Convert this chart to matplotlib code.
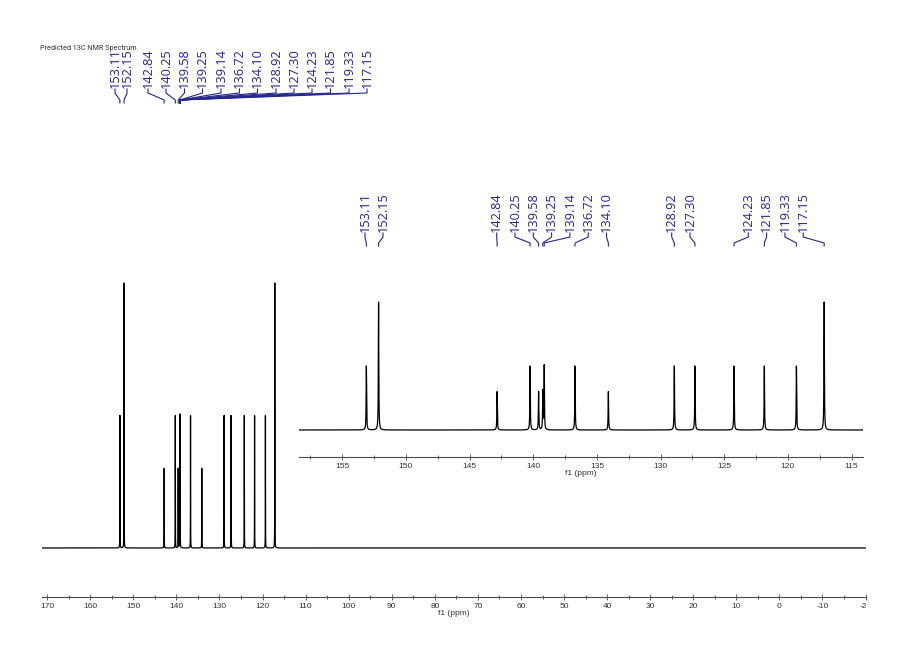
import numpy as np
import matplotlib.pyplot as plt
from matplotlib.lines import Line2D
from matplotlib.transforms import IdentityTransform, Bbox, TransformedBbox

# peak list (ppm) and relative heights
shifts = [153.11, 152.15, 142.84, 140.25, 139.58, 139.25, 139.14, 136.72,
          134.10, 128.92, 127.30, 124.23, 121.85, 119.33, 117.15]
heights = [0.5, 1.0, 0.3, 0.5, 0.3, 0.3, 0.5, 0.5,
           0.3, 0.5, 0.5, 0.5, 0.5, 0.5, 1.0]
labels = ["%.2f" % s for s in shifts]

main_ticks = np.arange(-20, 171, 10)
inset_ticks = np.arange(115, 156, 5)

# label placement (pixel x of each rotated label)
top_label_x = [115, 127, 148, 166, 184.5, 202.5, 221, 239.5, 257.5,
               276, 294, 312, 330.5, 349, 367]
inset_label_x = [365, 383, 496.7, 515, 533.3, 551.6, 569.9, 588.2, 606.5,
                 671.7, 690, 748.3, 766.6, 784.9, 803.2]

W, H = 902, 666
NAVY = '#25258f'
GREY = '#4a4a4a'


def spectrum(x, w):
    y = np.zeros_like(x)
    for s, h in zip(shifts, heights):
        y += h * w**2 / ((x - s)**2 + w**2)
    return y


def axes_px(left, right, top, bottom):
    return [left / W, 1 - bottom / H, (right - left) / W, (bottom - top) / H]


fig = plt.figure(figsize=(W / 100, H / 100), dpi=100)

ax = fig.add_axes(axes_px(42, 866, 270, 597))
xs = np.linspace(172, -21, 400000)
ax.plot(xs, spectrum(xs, 0.015), color='black', lw=0.9)

ins = fig.add_axes(axes_px(299, 863, 290, 457))
xi = np.linspace(159, 113.5, 120000)
ins.plot(xi, spectrum(xi, 0.02), color='black', lw=0.9)

for a, ticks, step in [(ax, main_ticks, 10), (ins, inset_ticks, 5)]:
    for sp in ['top', 'left', 'right']:
        a.spines[sp].set_visible(False)
    a.spines['bottom'].set_color(GREY)
    a.spines['bottom'].set_linewidth(0.8)
    a.set_yticks([])
    a.patch.set_alpha(0)
    a.set_xticks(ticks)
    a.set_xticks(np.arange(ticks[0] - step / 2, ticks[-1] + step, step), minor=True)
    a.set_xticklabels([str(int(t)) for t in ticks], fontsize=6,
                      family='Liberation Sans', color='#333333')
    a.tick_params(axis='x', which='major', direction='inout', length=4,
                  width=0.6, color=GREY, pad=2)
    a.tick_params(axis='x', which='minor', direction='inout', length=3,
                  width=0.6, color=GREY)
    a.set_xlabel('f1 (ppm)', fontsize=6, family='Liberation Sans',
                 color='#333333', labelpad=0.5)

ax.set_xlim(171.2, -20.1)
ax.set_ylim(-0.185, 1.049)
ins.set_xlim(158.4, 114.1)
ins.set_ylim(-0.211, 1.094)

# cut the last main tick label at the plot edge like the reference
clip = TransformedBbox(Bbox.from_extents(-1, -1, 1.0, 1), ax.transAxes)
for lab in ax.get_xticklabels():
    lab.set_clip_on(True)
    lab.set_clip_box(clip)


def draw_label(x, ybot, text, end_x, drop):
    fig.text(x / W, 1 - ybot / H, text, rotation=90, ha='center', va='bottom',
             fontsize=9.2, family='Open Sans', color=NAVY)
    px = [x, x, end_x, end_x]
    py = [ybot + 1, ybot + drop[0], ybot + drop[1], ybot + drop[2]]
    fig.add_artist(Line2D(px, [H - v for v in py], transform=IdentityTransform(),
                          color=NAVY, lw=0.8))


# labels over the full spectrum (connectors bunch together past 139.14)
for s, lab, lx in zip(shifts, labels, top_label_x):
    end = ax.transData.transform((max(s, 139.14), 0))[0]
    draw_label(lx, 88, lab, end, (5, 12, 15))

# labels over the expanded region
for s, lab, lx in zip(shifts, labels, inset_label_x):
    end = ins.transData.transform((s, 0))[0]
    draw_label(lx, 232, lab, end, (5, 11, 14))

fig.text(40 / W, 1 - 48 / H, 'Predicted 13C NMR Spectrum', fontsize=5.2,
         family='Roboto', color='#333333', va='center')

fig.savefig('out.png', dpi=100)
